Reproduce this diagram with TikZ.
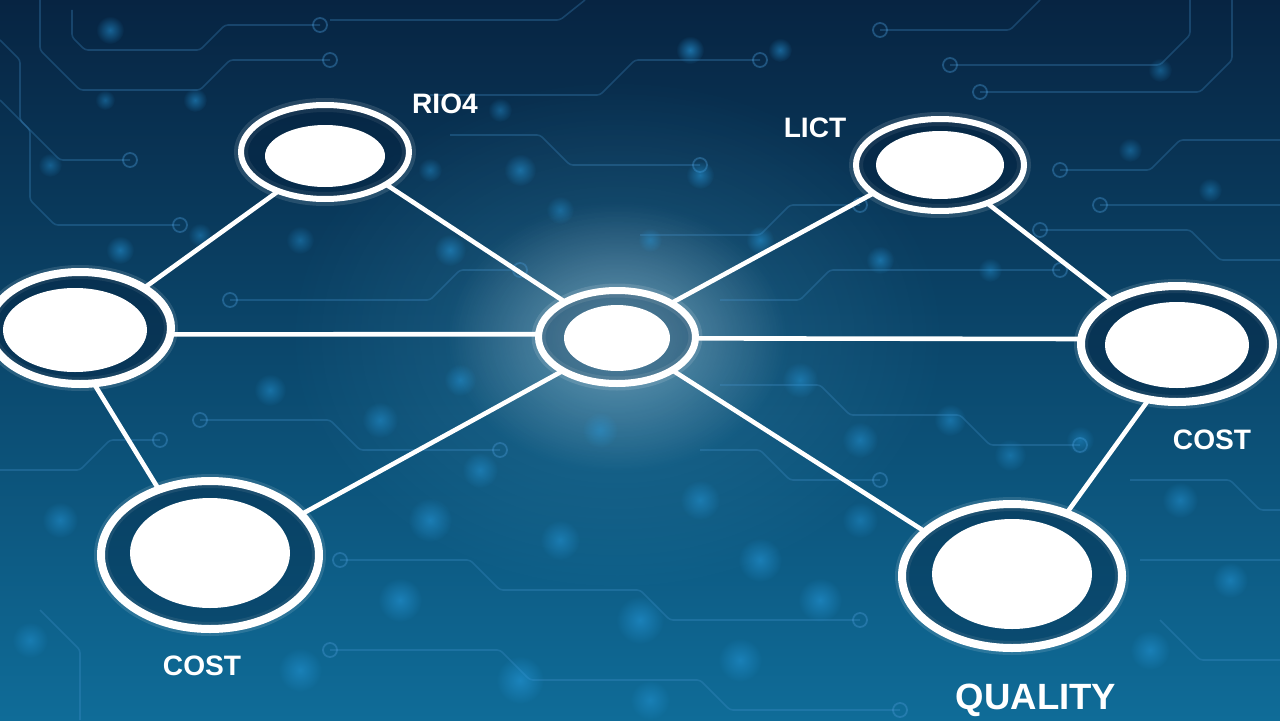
\documentclass[tikz,border=0pt]{standalone}
\usepackage{fontspec}
\setmainfont{Liberation Sans}
\usetikzlibrary{shapes.geometric,fadings}
\tikzfading[name=glowfade, inner color=transparent!0, outer color=transparent!100]
\pgfdeclarelayer{bglayer}
\pgfdeclarelayer{edgelayer}
\pgfsetlayers{bglayer,edgelayer,main}
\definecolor{bgtop}{RGB}{7,36,66}
\definecolor{bgmid}{RGB}{11,72,115}
\definecolor{bgbot}{RGB}{15,108,152}
\definecolor{tracec}{RGB}{70,150,210}
\definecolor{dotc}{RGB}{40,160,230}
\definecolor{gapc}{RGB}{4,30,58}
\tikzset{
  ring/.style={ellipse, draw=white, fill=gapc, fill opacity=0.42, inner sep=0pt, outer sep=0pt,
    preaction={draw=white, draw opacity=0.12, fill=none, line width=7mm}},
  core/.style={ellipse, fill=white, inner sep=0pt, outer sep=0pt},
  link/.style={draw=white, line width=2.3mm, line cap=round},
  trace/.style={draw=tracec, draw opacity=0.28, line width=0.8mm, rounded corners=1.5mm},
  pad/.style={draw=tracec, draw opacity=0.4, line width=0.9mm},
  lbl/.style={text=white, font=\fontsize{40}{44}\selectfont\bfseries, inner sep=0pt},
}
\begin{document}
\begin{tikzpicture}[x=0.5mm,y=-0.5mm]
\useasboundingbox (0,0) rectangle (1280,720);

% ---------- background ----------
\begin{pgfonlayer}{bglayer}
\shade[top color=bgtop, middle color=bgmid, bottom color=bgbot] (0,0) rectangle (1280,720);
\fill[white, path fading=glowfade, opacity=0.4] (617,337) ellipse [x radius=170, y radius=135];
\fill[cyan!60!white, path fading=glowfade, opacity=0.2] (617,337) ellipse [x radius=330, y radius=260];
% circuit traces
\draw[trace] (0,40) -- (20,60) -- (20,120) -- (60,160) -- (130,160);
\draw[trace] (40,0) -- (40,50) -- (80,90) -- (200,90) -- (230,60) -- (330,60);
\draw[trace] (72,10) -- (72,37) -- (85,50) -- (200,50) -- (225,25) -- (320,25);
\draw[trace] (0,100) -- (30,130) -- (30,200) -- (55,225) -- (180,225);
\draw[trace] (330,20) -- (560,20) -- (585,0);
\draw[trace] (430,95) -- (600,95) -- (635,60) -- (760,60);
\draw[trace] (450,135) -- (540,135) -- (570,165) -- (700,165);
\draw[trace] (640,235) -- (760,235) -- (790,205) -- (860,205);
\draw[trace] (880,30) -- (1010,30) -- (1040,0);
\draw[trace] (950,65) -- (1160,65) -- (1190,35) -- (1190,0);
\draw[trace] (980,92) -- (1200,92) -- (1232,60) -- (1232,0);
\draw[trace] (1060,170) -- (1150,170) -- (1180,140) -- (1280,140);
\draw[trace] (1040,230) -- (1190,230) -- (1220,260) -- (1280,260);
\draw[trace] (1100,205) -- (1280,205);
\draw[trace] (230,300) -- (430,300) -- (460,270) -- (520,270);
\draw[trace] (720,300) -- (800,300) -- (830,270) -- (1060,270);
\draw[trace] (720,385) -- (820,385) -- (850,415) -- (960,415) -- (990,445) -- (1080,445);
\draw[trace] (200,420) -- (330,420) -- (360,450) -- (500,450);
\draw[trace] (340,560) -- (470,560) -- (500,590) -- (640,590) -- (670,620) -- (860,620);
\draw[trace] (0,470) -- (80,470) -- (110,440) -- (160,440);
\draw[trace] (330,650) -- (500,650) -- (530,680) -- (700,680) -- (730,710) -- (900,710);
\draw[trace] (1130,480) -- (1230,480) -- (1260,510) -- (1280,510);
\draw[trace] (1140,560) -- (1280,560);
\draw[trace] (700,450) -- (760,450) -- (790,480) -- (880,480);
\draw[trace] (40,610) -- (80,650) -- (80,720);
\draw[trace] (1160,620) -- (1200,660) -- (1280,660);
% pads
\foreach \px/\py in {130/160, 330/60, 320/25, 180/225, 760/60, 700/165, 860/205, 880/30,
  950/65, 980/92, 1060/170, 1040/230, 520/270, 1060/270, 1080/445, 500/450, 860/620,
  160/440, 900/710, 880/480, 1100/205, 230/300, 200/420, 340/560, 330/650}
  \draw[pad] (\px,\py) circle [radius=7];
% glowing dots
\foreach \dx/\dy/\dr/\dop in {110/30/14/0.5, 195/100/12/0.5, 50/165/12/0.4, 105/100/10/0.4,
  520/170/16/0.5, 560/210/14/0.4, 690/50/14/0.6, 780/50/12/0.5, 700/175/14/0.5,
  650/240/12/0.4, 760/240/14/0.5, 880/260/14/0.5, 990/270/12/0.4, 1130/150/12/0.4,
  1210/190/12/0.4, 1160/70/12/0.4, 120/250/14/0.5, 200/235/12/0.4, 300/240/14/0.4,
  450/250/16/0.5, 430/170/12/0.4, 500/110/12/0.4,
  270/390/16/0.45, 380/420/18/0.45, 460/380/16/0.45, 800/380/18/0.45, 950/420/16/0.45,
  1010/455/16/0.4, 1080/440/14/0.4,
  430/520/22/0.5, 480/470/18/0.45, 600/430/18/0.4, 700/500/20/0.45, 760/560/22/0.5,
  860/440/18/0.45, 820/600/22/0.5, 640/620/24/0.5, 400/600/22/0.5, 300/670/22/0.45,
  520/680/24/0.5, 740/660/22/0.45, 860/520/18/0.4, 1180/500/18/0.45, 1230/580/18/0.45,
  1150/650/20/0.45, 60/520/18/0.45, 30/640/18/0.4, 560/540/20/0.45, 650/700/20/0.4}
  \fill[dotc, path fading=glowfade, opacity=\dop] (\dx,\dy) circle [radius=\dr];
\end{pgfonlayer}

% ---------- nodes ----------
\node[ring, line width=3mm, minimum width=84mm, minimum height=47mm] (tl) at (325,152) {};
\node[core, minimum width=60mm, minimum height=31mm] (tlc) at (325,156) {};

\node[ring, line width=3mm, minimum width=84mm, minimum height=46mm] (tr) at (940,165) {};
\node[core, minimum width=64mm, minimum height=34mm] (trc) at (940,165) {};

\node[ring, line width=4mm, minimum width=91mm, minimum height=56mm] (lf) at (80,328) {};
\node[core, minimum width=72mm, minimum height=42mm] (lfc) at (75,330) {};

\node[ring, fill opacity=0.2, line width=3.5mm, minimum width=78.5mm, minimum height=46.5mm] (c) at (617,337) {};
\node[core, minimum width=53mm, minimum height=33mm] (cc) at (617,338) {};

\node[ring, line width=4mm, minimum width=96mm, minimum height=58mm] (rt) at (1177,344) {};
\node[core, minimum width=72mm, minimum height=43mm] (rtc) at (1177,345) {};

\node[ring, fill opacity=0.35, line width=4mm, minimum width=109mm, minimum height=74mm] (bl) at (210,555) {};
\node[core, minimum width=80mm, minimum height=55mm] (blc) at (210,553) {};

\node[ring, fill opacity=0.35, line width=4mm, minimum width=110mm, minimum height=72mm] (br) at (1012,576) {};
\node[core, minimum width=80mm, minimum height=55mm] (brc) at (1012,574) {};

% ---------- connectors ----------
\begin{pgfonlayer}{edgelayer}
\draw[link] (tl.-140) -- (lf.32);
\draw[link] (tl.-28) -- (c.146);
\draw[link] (lf.-4) -- (c.178);
\draw[link] (lf.-76) -- (bl.128);
\draw[link] (bl.24) -- (c.-148);
\draw[link] (c.32) -- (tr.-157);
\draw[link] (c.-1) -- (rt.177);
\draw[link] (c.-31) -- (br.153);
\draw[link] (tr.-39) -- (rt.146);
\draw[link] (rt.-117) -- (br.49);
\end{pgfonlayer}

% ---------- labels ----------
\node[lbl] (lrio) at (445,104) {RIO4};
\node[lbl] (llict) at (815,128) {LICT};
\node[lbl] (lcostr) at (1212,440) {COST};
\node[lbl] (lcostl) at (202,666) {COST};
\node[lbl, font=\fontsize{52}{56}\selectfont\bfseries] (lqual) at (1036,700) {QUALITY};
\end{tikzpicture}
\end{document}
